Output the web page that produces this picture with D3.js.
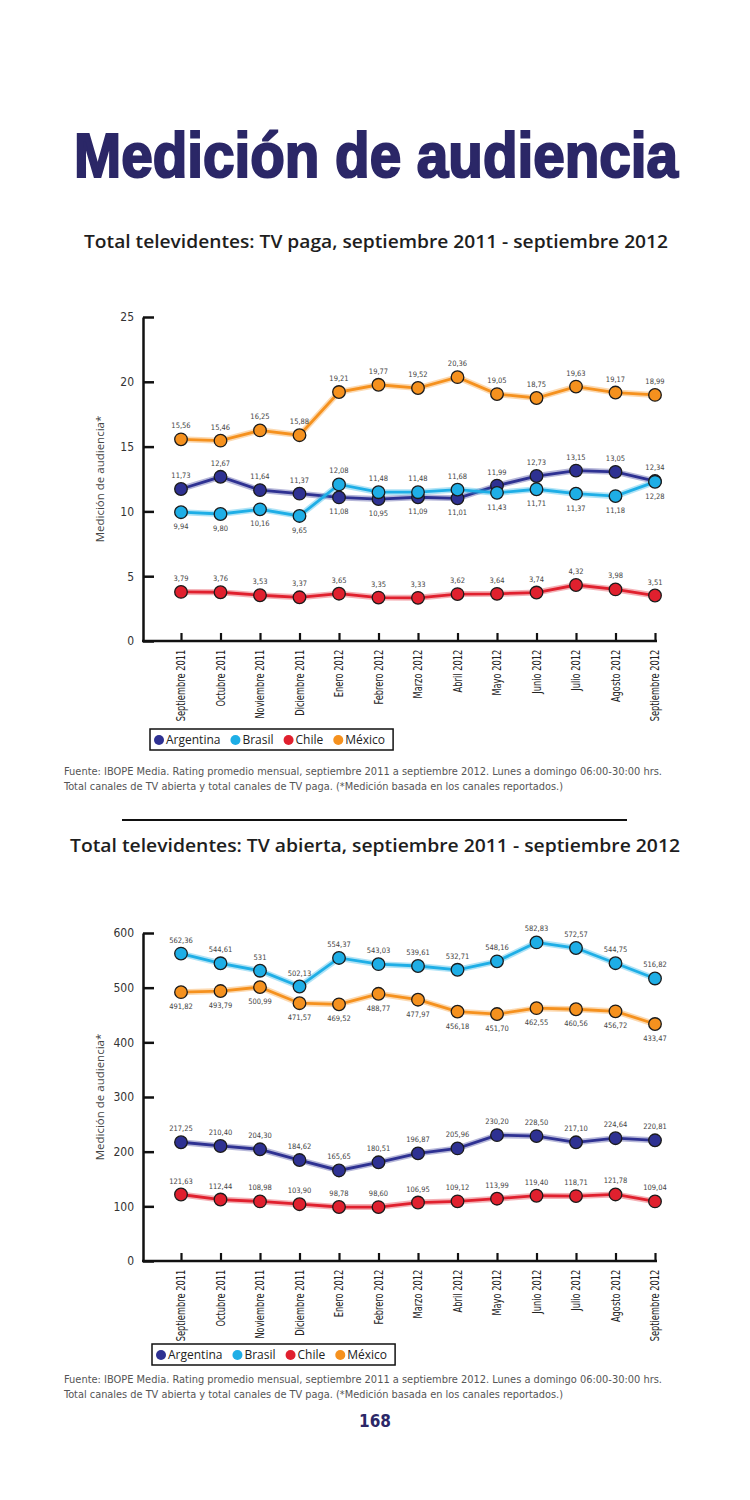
<!DOCTYPE html>
<html>
<head>
<meta charset="utf-8">
<script src="https://cdn.jsdelivr.net/npm/d3@7"></script>
<style>
  body { margin: 0; background: #fff; }
  .cond { font-family: "Liberation Sans Narrow", "DejaVu Sans Condensed", "Roboto Condensed", "Open Sans", sans-serif; font-stretch: condensed; }
</style>
</head>
<body>
<div id="page"></div>
<script>
// months on the x axis (same for both charts)
var months = ['Septiembre 2011', 'Octubre 2011', 'Noviembre 2011', 'Diciembre 2011', 'Enero 2012', 'Febrero 2012',
  'Marzo 2012', 'Abril 2012', 'Mayo 2012', 'Junio 2012', 'Julio 2012', 'Agosto 2012', 'Septiembre 2012']
var countries = ['Argentina', 'Brasil', 'Chile', 'México']
var colors = ['#2e3192', '#1eaee6', '#e0202e', '#f5911e']

// TV paga
var pagaArgentina = [11.73, 12.67, 11.64, 11.37, 11.08, 10.95, 11.09, 11.01, 11.99, 12.73, 13.15, 13.05, 12.34]
var pagaBrasil = [9.94, 9.80, 10.16, 9.65, 12.08, 11.48, 11.48, 11.68, 11.43, 11.71, 11.37, 11.18, 12.28]
var pagaChile = [3.79, 3.76, 3.53, 3.37, 3.65, 3.35, 3.33, 3.62, 3.64, 3.74, 4.32, 3.98, 3.51]
var pagaMexico = [15.56, 15.46, 16.25, 15.88, 19.21, 19.77, 19.52, 20.36, 19.05, 18.75, 19.63, 19.17, 18.99]
var pagaTicks = [0, 5, 10, 15, 20, 25]

// TV abierta
var abiertaArgentina = [217.25, 210.40, 204.30, 184.62, 165.65, 180.51, 196.87, 205.96, 230.20, 228.50, 217.10, 224.64, 220.81]
var abiertaBrasil = [562.36, 544.61, 531, 502.13, 554.37, 543.03, 539.61, 532.71, 548.16, 582.83, 572.57, 544.75, 516.82]
var abiertaChile = [121.63, 112.44, 108.98, 103.90, 98.78, 98.60, 106.95, 109.12, 113.99, 119.40, 118.71, 121.78, 109.04]
var abiertaMexico = [491.82, 493.79, 500.99, 471.57, 469.52, 488.77, 477.97, 456.18, 451.70, 462.55, 460.56, 456.72, 433.47]
var abiertaTicks = [0, 100, 200, 300, 400, 500, 600]

var fuente1 = 'Fuente: IBOPE Media. Rating promedio mensual, septiembre 2011 a septiembre 2012. Lunes a domingo 06:00-30:00 hrs.'
var fuente2 = 'Total canales de TV abierta y total canales de TV paga. (*Medición basada en los canales reportados.)'

var W = 750, H = 1500
var navy = '#2b2767'

var svg = d3.select('#page').append('svg')
  .attr('width', W).attr('height', H)
  .style('font-family', '"Open Sans", "Liberation Sans", sans-serif')

// big page title (stroked a bit to get the heavy look)
svg.append('text')
  .attr('x', 74).attr('y', 177)
  .attr('textLength', 604).attr('lengthAdjust', 'spacingAndGlyphs')
  .style('font-family', '"Liberation Sans", Arial, sans-serif')
  .style('font-weight', 'bold').style('font-size', '63px')
  .attr('fill', navy).attr('stroke', navy).attr('stroke-width', 2.2)
  .text('Medición de audiencia')

function subtitle(txt, x, y, len) {
  svg.append('text')
    .attr('x', x).attr('y', y)
    .attr('textLength', len).attr('lengthAdjust', 'spacingAndGlyphs')
    .style('font-weight', 600).style('font-size', '18px')
    .attr('fill', '#1e1e1e')
    .text(txt)
}

function footnote(y) {
  svg.append('text').attr('x', 64).attr('y', y)
    .attr('textLength', 598).attr('lengthAdjust', 'spacingAndGlyphs')
    .attr('class', 'cond').style('font-size', '10px').attr('fill', '#555')
    .text(fuente1)
  svg.append('text').attr('x', 64).attr('y', y + 15)
    .attr('textLength', 499).attr('lengthAdjust', 'spacingAndGlyphs')
    .attr('class', 'cond').style('font-size', '10px').attr('fill', '#555')
    .text(fuente2)
}

// format like 11,73 (comma decimal), whole numbers without decimals
function fmt(v) {
  if (Number.isInteger(v)) return String(v)
  return d3.format('.2f')(v).replace('.', ',')
}

var drawChart = function (opts) {
  var g = svg.append('g')
  var x = d3.scalePoint().domain(months).range([181, 655])
  var y = d3.scaleLinear().domain([0, opts.yMax]).range([opts.yBottom, opts.yTop])

  // y axis, ticks pointing inside
  var yAxis = g.append('g').attr('transform', 'translate(143,0)')
    .call(d3.axisLeft(y).tickValues(opts.ticks).tickSize(-11).tickSizeOuter(0).tickPadding(9))
  yAxis.select('.domain').attr('stroke', '#111').attr('stroke-width', 2.5)
  yAxis.selectAll('.tick line').attr('stroke', '#111').attr('stroke-width', 2.5)
  yAxis.selectAll('.tick text').attr('class', 'cond').style('font-size', '12px').attr('fill', '#333')

  // x axis line + ticks pointing up
  g.append('line')
    .attr('x1', 142).attr('x2', 657)
    .attr('y1', opts.yBottom).attr('y2', opts.yBottom)
    .attr('stroke', '#111').attr('stroke-width', 2.5)
  var xAxis = g.append('g').attr('transform', 'translate(0,' + opts.yBottom + ')')
    .call(d3.axisBottom(x).tickSize(-8).tickSizeOuter(0))
  xAxis.select('.domain').remove()
  xAxis.selectAll('.tick line').attr('stroke', '#111').attr('stroke-width', 2.2)
  // rotated month names, squeezed along the text direction to look condensed
  xAxis.selectAll('.tick text')
    .attr('class', 'cond')
    .style('font-size', '11.5px').attr('fill', '#222')
    .attr('text-anchor', 'end')
    .attr('transform', 'rotate(-90) scale(0.8,1)')
    .attr('x', -11).attr('y', 0).attr('dy', '0.32em')

  // y axis title
  g.append('text')
    .attr('transform', 'translate(104,' + ((opts.yTop + opts.yBottom) / 2) + ') rotate(-90)')
    .attr('text-anchor', 'middle')
    .style('font-size', '11.5px').attr('fill', '#444')
    .text('Medición de audiencia*')

  var line = d3.line().x(function (d, i) { return x(months[i]) }).y(function (d) { return y(d) })

  opts.series.forEach(function (values, s) {
    // soft halo under the line
    g.append('path').datum(values).attr('d', line)
      .attr('fill', 'none').attr('stroke', colors[s]).attr('stroke-opacity', 0.35).attr('stroke-width', 6)
    g.append('path').datum(values).attr('d', line)
      .attr('fill', 'none').attr('stroke', colors[s]).attr('stroke-width', 2.8)
  })

  opts.series.forEach(function (values, s) {
    g.selectAll(null).data(values).enter().append('circle')
      .attr('cx', function (d, i) { return x(months[i]) })
      .attr('cy', function (d) { return y(d) })
      .attr('r', 6.3)
      .attr('fill', colors[s]).attr('stroke', '#1b1b1b').attr('stroke-width', 1.3)
  })

  // value labels: the lower series of the paired two goes below its point
  opts.series.forEach(function (values, s) {
    var partner = opts.pair.indexOf(s) >= 0 ? opts.pair[1 - opts.pair.indexOf(s)] : -1
    g.selectAll(null).data(values).enter().append('text')
      .attr('x', function (d, i) { return x(months[i]) })
      .attr('y', function (d, i) {
        var below = partner >= 0 && d < opts.series[partner][i]
        return y(d) + (below ? 17 : -11)
      })
      .attr('text-anchor', 'middle')
      .attr('class', 'cond')
      .style('font-size', '7.5px').attr('fill', '#444')
      .text(function (d) { return fmt(d) })
  })

  // legend box
  var leg = g.append('g').attr('transform', 'translate(' + opts.legend[0] + ',' + opts.legend[1] + ')')
  var box = leg.append('rect').attr('x', 0).attr('y', 0).attr('height', 21)
    .attr('fill', '#fff').attr('stroke', '#111').attr('stroke-width', 1.5)
  var cx = 9
  countries.forEach(function (c, i) {
    leg.append('circle').attr('cx', cx).attr('cy', 11).attr('r', 5).attr('fill', colors[i])
    var t = leg.append('text').attr('x', cx + 7).attr('y', 15)
      .style('font-size', '12px').attr('fill', '#222').text(c)
    cx += 7 + t.node().getComputedTextLength() + 15
  })
  box.attr('width', cx - 7)
}

subtitle('Total televidentes: TV paga, septiembre 2011 - septiembre 2012', 84, 248, 584)
drawChart({
  series: [pagaArgentina, pagaBrasil, pagaChile, pagaMexico],
  ticks: pagaTicks, yMax: 25, yTop: 317, yBottom: 641,
  pair: [0, 1],
  legend: [150, 729]
})
footnote(775)

svg.append('line').attr('x1', 122).attr('x2', 627).attr('y1', 820).attr('y2', 820)
  .attr('stroke', '#111').attr('stroke-width', 2)

subtitle('Total televidentes: TV abierta, septiembre 2011 - septiembre 2012', 70, 852, 610)
drawChart({
  series: [abiertaArgentina, abiertaBrasil, abiertaChile, abiertaMexico],
  ticks: abiertaTicks, yMax: 600, yTop: 933, yBottom: 1261,
  pair: [1, 3],
  legend: [152, 1344]
})
footnote(1383)

// page number
svg.append('text')
  .attr('x', 375).attr('y', 1427).attr('text-anchor', 'middle')
  .attr('class', 'cond')
  .style('font-size', '17px').style('font-weight', 'bold').attr('fill', navy)
  .text('168')
</script>
</body>
</html>
